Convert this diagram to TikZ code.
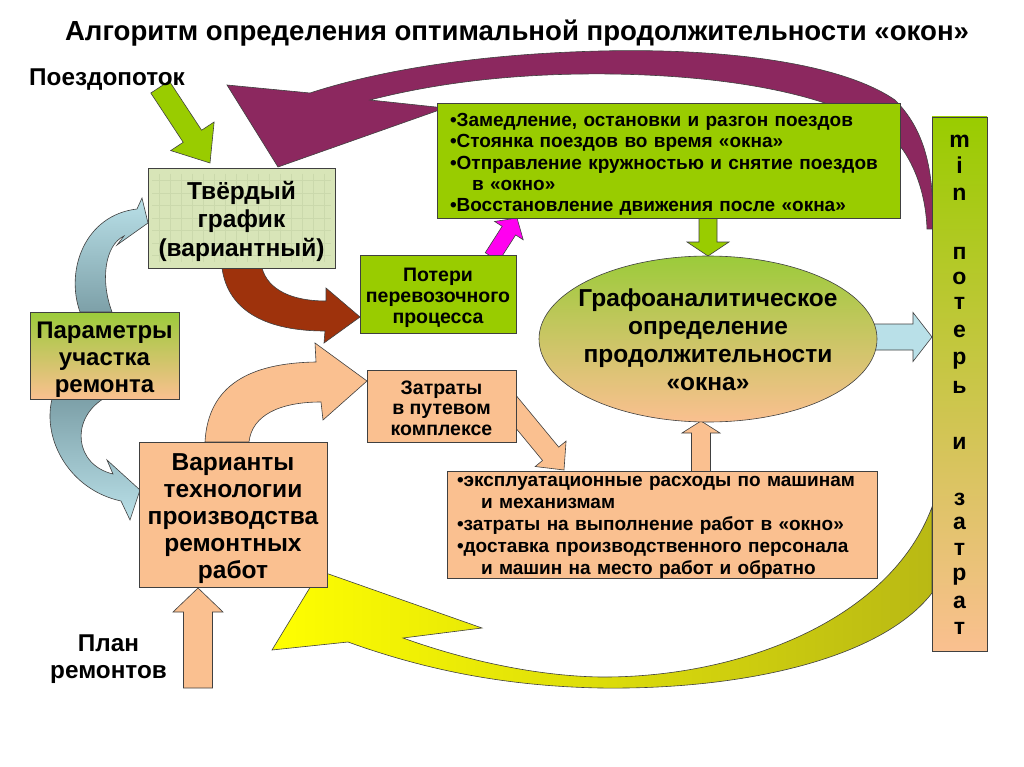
\documentclass[tikz,border=0pt]{standalone}
\usepackage{fontspec}
\setmainfont{Liberation Sans}
\usetikzlibrary{calc,shapes.geometric}
\pgfdeclarelayer{bg}
\pgfsetlayers{bg,main}
\definecolor{paleg}{RGB}{216,229,184}
\definecolor{texc}{RGB}{203,217,172}
\definecolor{lime}{RGB}{153,204,0}
\definecolor{peach}{RGB}{250,192,144}
\definecolor{purp}{RGB}{140,40,95}
\definecolor{brownr}{RGB}{158,50,12}
\definecolor{magent}{RGB}{255,0,240}
\definecolor{lblue}{RGB}{185,224,232}
\definecolor{gblue}{RGB}{125,160,168}
\definecolor{yel}{RGB}{255,255,0}
\definecolor{olive}{RGB}{185,185,20}
\definecolor{pgreen}{RGB}{155,203,58}
\tikzset{
  outl/.style={draw=black!75, line width=0.6pt},
  box/.style={outl, rectangle, inner sep=0pt},
  lbl/.style={inner sep=0pt, align=center},
  arr/.style={outl, line join=miter},
}
\newcommand{\barr}[6]{%
  \coordinate (bh) at ($(#3)!#6!(#2)$);
  \path[#1] ($(#2)!#4!90:(#3)$) -- ($(bh)!#4!90:(#3)$) -- ($(bh)!#5!90:(#3)$) -- (#3)
    -- ($(bh)!#5!-90:(#3)$) -- ($(bh)!#4!-90:(#3)$) -- ($(#2)!#4!-90:(#3)$) -- cycle;}
\begin{document}
\begin{tikzpicture}[x=1pt,y=-1pt]
\useasboundingbox (0,0) rectangle (1024,767);

% ---------- nodes ----------
\node[lbl, font=\bfseries\fontsize{27.6}{32}\selectfont] (title) at (517,33) {Алгоритм определения оптимальной продолжительности «окон»};
\node[lbl, font=\bfseries\fontsize{24.3}{28}\selectfont, anchor=west] (flow) at (29,80) {Поездопоток};
\node[lbl, font=\bfseries\fontsize{24.3}{27}\selectfont] (plan) at (108.5,659) {План\\ремонтов};

% Tvyordy grafik
\node[box, minimum width=187pt, minimum height=100pt, fill=paleg,
  path picture={
    \foreach \i in {1,...,16}
      \draw[texc, line width=0.4pt] ($(path picture bounding box.north west)+(\i*11,6)$) -- ($(path picture bounding box.south west)+(\i*11,-6)$);
    \foreach \j in {1,...,7}
      \draw[texc, line width=0.4pt] ($(path picture bounding box.north west)+(4,\j*12.5)$) -- ($(path picture bounding box.north east)+(-4,\j*12.5)$);
  }] (tg) at (241.5,218) {};
\node[lbl, font=\bfseries\fontsize{24.5}{28.5}\selectfont] (tgt) at ($(tg.center)+(0,3)$) {Твёрдый\\график\\(вариантный)};

% Poteri
\node[box, minimum width=156pt, minimum height=78pt, fill=lime] (pot) at (438,294) {};
\node[lbl, font=\bfseries\fontsize{19.5}{21}\selectfont] (pott) at ($(pot.center)+(0,4)$) {Потери\\перевозочного\\процесса};

% Zatraty
\node[box, minimum width=149pt, minimum height=72pt, fill=peach] (zat) at (441.5,406) {};
\node[lbl, font=\bfseries\fontsize{19.5}{20.5}\selectfont] (zatt) at ($(zat.center)+(0,2)$) {Затраты\\в путевом\\комплексе};

% Parametry
\node[box, minimum width=149pt, minimum height=87pt, top color=pgreen, bottom color=peach] (par) at (104.5,355.5) {};
\node[lbl, font=\bfseries\fontsize{24}{27}\selectfont] (part) at ($(par.center)+(0,4)$) {Параметры\\участка\\ремонта};

% Varianty
\node[box, minimum width=188pt, minimum height=145pt, fill=peach] (var) at (233,515) {};
\node[lbl, font=\bfseries\fontsize{24.5}{27}\selectfont] (vart) at ($(var.center)+(0,4)$) {Варианты\\технологии\\производства\\ремонтных\\работ};

% green list box
\node[box, fill=lime, minimum width=463pt, minimum height=115pt] (gbox) at (668.5,160.5) {};
\node[lbl, align=left, text width=437pt, font=\bfseries\fontsize{19}{21.25}\selectfont] (gboxt) at ($(gbox.center)+(0,4)$)
  {•Замедление, остановки и разгон поездов\\•Стоянка поездов во время «окна»\\•Отправление кружностью и снятие поездов\\\hspace*{22pt}в «окно»\\•Восстановление движения после «окна»};

% peach list box
\node[box, fill=peach, minimum width=430pt, minimum height=107pt] (bbox) at (662,524.5) {};
\node[lbl, align=left, text width=410pt, font=\bfseries\fontsize{19}{22}\selectfont] (bboxt) at ($(bbox.center)+(0,2.5)$)
  {•эксплуатационные расходы по машинам\\\hspace*{24pt}и механизмам\\•затраты на выполнение работ в «окно»\\•доставка производственного персонала\\\hspace*{24pt}и машин на место работ и обратно};

% ellipse
\node[ellipse, outl, minimum width=338pt, minimum height=166pt, inner sep=0pt,
  top color=pgreen, bottom color=peach] (ell) at (708,339) {};
\node[lbl, font=\bfseries\fontsize{24.5}{28}\selectfont] (ellt) at ($(ell.center)+(0,1)$)
  {Графоаналитическое\\определение\\продолжительности\\«окна»};

% vertical bar
\node[box, minimum width=55pt, minimum height=534pt, top color=lime, bottom color=peach] (bar) at (959.5,384) {};
\foreach \ch/\yy [count=\k] in {m/139,i/165,n/192,п/250,о/275,т/300,е/328,р/355,ь/384,и/440,з/496,а/520,т/546,р/571,а/599,т/625}
  \node[font=\bfseries\fontsize{23}{23}\selectfont, anchor=base, inner sep=0pt] (bl\k) at (959.5,\yy+9) {\ch};

% ---------- arrows (behind) ----------
\begin{pgfonlayer}{bg}
\fill[white] (0,0) rectangle (1024,767);

% purple big arc
\path[arr, fill=purp] (933,229) .. controls (934,170) and (925,130) .. (895,100)
   .. controls (840,62) and (720,48) .. (600,51)
   .. controls (480,54) and (380,70) .. (310,93)
   -- (227,85) -- (278,167) -- (445,108) -- (370,100)
   .. controls (440,82) and (520,73) .. (610,74)
   .. controls (760,76) and (870,105) .. (903,150)
   .. controls (918,172) and (926,200) .. (927,229) -- cycle;

% yellow bottom arc
\path[arr, left color=yel, right color=olive] (932,593) .. controls (880,660) and (740,690) .. (600,688)
   .. controls (500,686) and (420,668) .. (348,642)
   -- (272,650) -- (320,571) -- (482,628) -- (403,638)
   .. controls (470,662) and (540,676) .. (600,677)
   .. controls (740,678) and (890,620) .. (932,507) -- cycle;

% brown arrow
\path[arr, fill=brownr] (222,268) .. controls (228,312) and (268,331) .. (325,331)
   -- (324,343) -- (360,317) -- (326,288) -- (326,301)
   .. controls (292,301) and (268,290) .. (262,268) -- cycle;

% peach curved arrow
\path[arr, fill=peach] (205,442) .. controls (208,385) and (250,363) .. (316,362)
   -- (315,343) -- (367,381) -- (323,420) -- (321,402)
   .. controls (280,402) and (252,415) .. (249,442) -- cycle;

% light blue upper
\path[arr, top color=lblue, bottom color=gblue] (80,312) .. controls (65,270) and (85,215) .. (137,209)
   -- (142,198) -- (148,223) -- (117,245) -- (124,236)
   .. controls (105,245) and (100,280) .. (112,312) -- cycle;

% light blue lower
\path[arr, top color=gblue, bottom color=lblue] (52,399) .. controls (42,440) and (70,490) .. (121,501)
   -- (130,520) -- (140,490) -- (107,460) -- (113,474)
   .. controls (75,465) and (70,420) .. (103,399) -- cycle;

% straight block arrows
\coordinate (pfT) at (160,87);   \coordinate (pfH) at (210,163);
\barr{arr, fill=lime}{pfT}{pfH}{11pt}{26pt}{32pt}
\coordinate (mgT) at (492,257);  \coordinate (mgH) at (517,218);
\barr{arr, fill=magent}{mgT}{mgH}{8pt}{17pt}{15pt}
\coordinate (gdT) at (708,216);  \coordinate (gdH) at (708,256);
\barr{arr, fill=lime}{gdT}{gdH}{9pt}{21pt}{14pt}
\coordinate (puT) at (701,473);  \coordinate (puH) at (701,421);
\barr{arr, fill=peach}{puT}{puH}{9.5pt}{19pt}{12pt}
\coordinate (lbT) at (874,337);  \coordinate (lbH) at (932,337);
\barr{arr, fill=lblue}{lbT}{lbH}{13pt}{24.5pt}{19pt}
\coordinate (zdT) at (498,390);  \coordinate (zdH) at (564,470);
\barr{arr, fill=peach}{zdT}{zdH}{10.5pt}{20pt}{21pt}
\coordinate (plT) at (198,688);  \coordinate (plH) at (198,588);
\barr{arr, fill=peach}{plT}{plH}{14.5pt}{25pt}{24pt}
\end{pgfonlayer}
\end{tikzpicture}
\end{document}
